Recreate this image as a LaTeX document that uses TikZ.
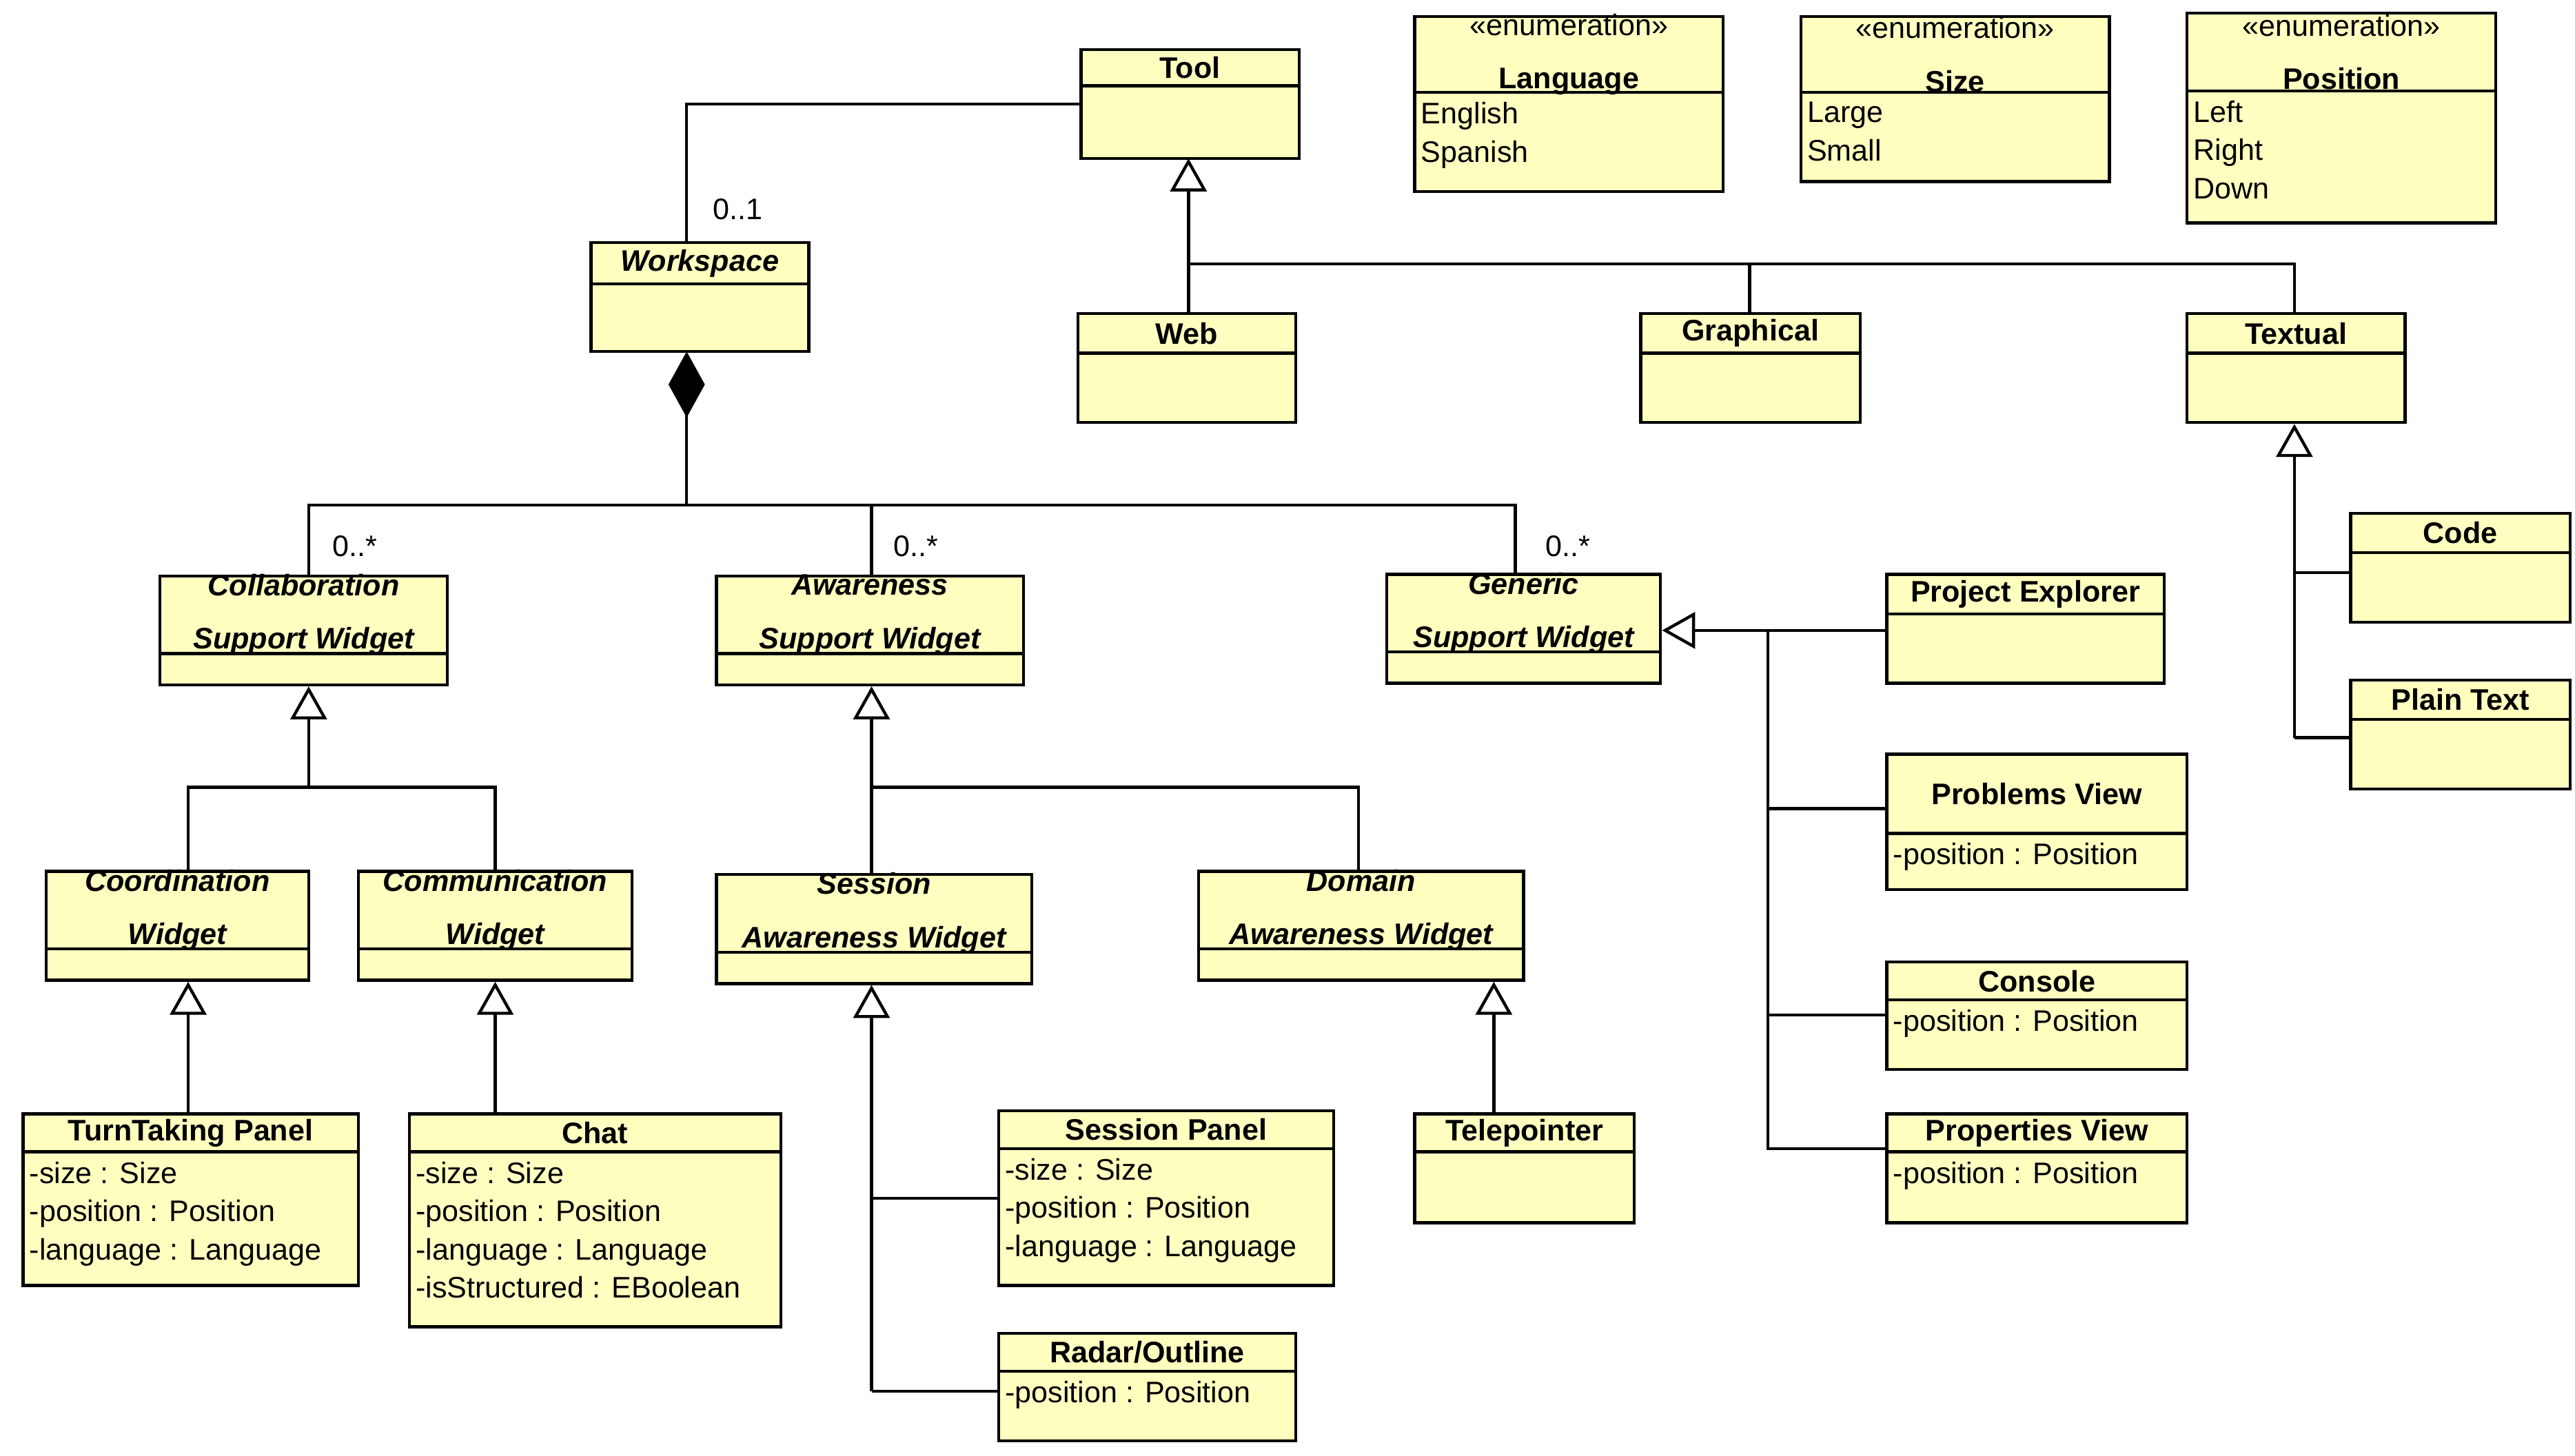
\documentclass[tikz,border=0pt]{standalone}
\usepackage{fontspec}
\setmainfont{Liberation Sans}
\usetikzlibrary{calc,fit,arrows.meta}
\definecolor{umlyellow}{RGB}{255,255,192}

% class box: name, x1, y1, x2, y2, separator y, title, attributes
\newcommand\umlbox[8]{%
  \draw[box] (#2,#3) rectangle (#4,#5);
  \draw[box] (#2,#6) -- (#4,#6);
  \node[inner sep=0,fit={(#2,#3)(#4,#5)}] (#1) {};
  \node[title] at ($(#2,#3)!0.5!(#4,#6)$) {#7};
  \node[attr] at (#2+3,#6+5) {#8};}

\begin{document}
\begin{tikzpicture}[x=0.025cm,y=-0.025cm,line width=1.3pt,
    font=\fontsize{12.8}{16.5}\selectfont,
    box/.style={fill=umlyellow,draw=black,line width=1.3pt},
    title/.style={align=center,inner sep=0,font=\fontsize{12.8}{23}\selectfont\bfseries},
    attr/.style={anchor=north west,align=left,inner sep=0},
    gen/.style={-{Triangle[open,length=0.5cm,width=0.55cm]}},
    comp/.style={-{Diamond[length=1cm,width=0.55cm]}},
    mult/.style={inner sep=0}]
    \useasboundingbox (0,0) rectangle (1560,882);

    % top row
    \umlbox{tool}{655}{30}{787}{96}{52}{Tool}{}
    \umlbox{language}{857}{10}{1044}{116}{56}{\mdseries<<enumeration>>\\Language}{English\\Spanish}
    \umlbox{size}{1091}{10}{1278}{110}{56}{\mdseries<<enumeration>>\\Size}{Large\\Small}
    \umlbox{position}{1325}{8}{1512}{135}{55}{\mdseries<<enumeration>>\\Position}{Left\\Right\\Down}
    \umlbox{workspace}{358}{147}{490}{213}{172}{\itshape Workspace}{}
    \umlbox{web}{653}{190}{785}{256}{214}{Web}{}
    \umlbox{graphical}{994}{190}{1127}{256}{214}{Graphical}{}
    \umlbox{textual}{1325}{190}{1457}{256}{214}{Textual}{}
    \umlbox{code}{1424}{311}{1557}{377}{335}{Code}{}
    \umlbox{plaintext}{1424}{412}{1557}{478}{436}{Plain Text}{}

    % widgets
    \umlbox{collab}{97}{349}{271}{415}{396}{\itshape Collaboration\\\itshape Support Widget}{}
    \umlbox{aware}{434}{349}{620}{415}{396}{\itshape Awareness\\\itshape Support Widget}{}
    \umlbox{generic}{840}{348}{1006}{414}{395}{\itshape Generic\\\itshape Support Widget}{}
    \umlbox{explorer}{1143}{348}{1311}{414}{372}{Project Explorer}{}
    \umlbox{problems}{1143}{457}{1325}{539}{505}{Problems View}{-position : Position}
    \umlbox{console}{1143}{583}{1325}{648}{606}{Console}{-position : Position}
    \umlbox{properties}{1143}{675}{1325}{741}{698}{Properties View}{-position : Position}
    \umlbox{coord}{28}{528}{187}{594}{575}{\itshape Coordination\\\itshape Widget}{}
    \umlbox{comm}{217}{528}{383}{594}{575}{\itshape Communication\\\itshape Widget}{}
    \umlbox{sessaware}{434}{530}{625}{596}{577}{\itshape Session\\\itshape Awareness Widget}{}
    \umlbox{domaware}{726}{528}{923}{594}{575}{\itshape Domain\\\itshape Awareness Widget}{}
    \umlbox{turn}{14}{675}{217}{779}{698}{TurnTaking Panel}{-size : Size\\-position : Position\\-language : Language}
    \umlbox{chat}{248}{675}{473}{804}{698}{Chat}{-size : Size\\-position : Position\\-language : Language\\-isStructured : EBoolean}
    \umlbox{sesspanel}{605}{673}{808}{779}{696}{Session Panel}{-size : Size\\-position : Position\\-language : Language}
    \umlbox{radar}{605}{808}{785}{873}{831}{Radar/Outline}{-position : Position}
    \umlbox{telepointer}{857}{675}{990}{741}{698}{Telepointer}{}

    % association
    \draw (tool.west |- 0,63) -- (416,63) -- (416,147);
    \node[mult] (m1) at (447,127) {0..1};

    % generalizations of Tool
    \coordinate (jt) at (720,160);
    \draw[gen] (jt) -- (720,96);
    \draw (web.north -| jt) -- (jt) -- (1390,160) -- (textual.north -| 1390,0);
    \draw (1060,160) -- (graphical.north -| 1060,0);

    % composition
    \coordinate (jw) at (416,306);
    \draw[comp] (jw) -- (416,213);
    \draw (collab.north -| 187,0) -- (187,306) -- (918,306) -- (generic.north -| 918,0);
    \draw (528,306) -- (aware.north -| 528,0);
    \node[mult] (m2) at (215,331) {0..*};
    \node[mult] (m3) at (555,331) {0..*};
    \node[mult] (m4) at (950,331) {0..*};

    % Textual
    \draw[gen] (1390,447) -- (textual.south -| 1390,0);
    \draw (code.west |- 0,347) -- (1390,347);
    \draw (plaintext.west |- 0,447) -- (1390,447);

    % Generic
    \draw[gen] (1071,382) -- (generic.east |- 0,382);
    \draw (explorer.west |- 0,382) -- (1071,382) -- (1071,696) -- (properties.west |- 0,696);
    \draw (1071,490) -- (problems.west |- 0,490);
    \draw (1071,615) -- (console.west |- 0,615);

    % Collaboration
    \draw[gen] (187,477) -- (collab.south -| 187,0);
    \draw (coord.north -| 114,0) -- (114,477) -- (300,477) -- (comm.north -| 300,0);
    % Awareness
    \draw[gen] (528,477) -- (aware.south -| 528,0);
    \draw (sessaware.north -| 528,0) -- (528,477) -- (823,477) -- (domaware.north -| 823,0);

    % leaves
    \draw[gen] (turn.north -| 114,0) -- (coord.south -| 114,0);
    \draw[gen] (chat.north -| 300,0) -- (comm.south -| 300,0);
    \draw[gen] (telepointer.north -| 905,0) -- (domaware.south -| 905,0);
    \draw[gen] (528,843) -- (sessaware.south -| 528,0);
    \draw (sesspanel.west |- 0,726) -- (528,726);
    \draw (radar.west |- 0,843) -- (528,843);
\end{tikzpicture}
\end{document}
